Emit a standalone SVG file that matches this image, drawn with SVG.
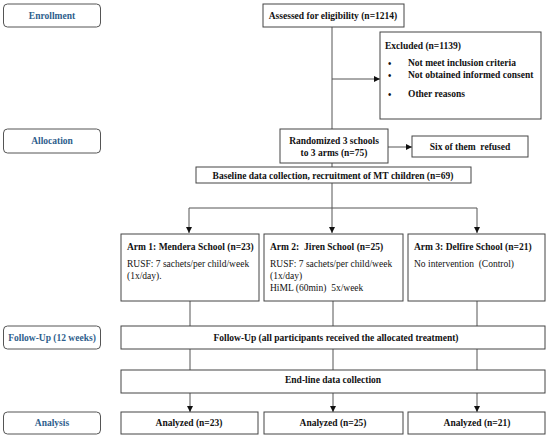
<svg xmlns="http://www.w3.org/2000/svg" width="550" height="439" viewBox="0 0 550 439" xml:space="preserve">
<style>
.lbl{fill:#fff;stroke:#555;stroke-width:1}
.box{fill:#fff;stroke:#444;stroke-width:1}
.lt{font-family:"Liberation Serif",serif;font-weight:bold;font-size:9.5px;fill:#2e5e8c;text-anchor:middle}
.b{font-family:"Liberation Serif",serif;font-weight:bold;font-size:9.5px;fill:#111;white-space:pre}
.n{font-family:"Liberation Serif",serif;font-size:9.5px;fill:#111;white-space:pre}
.c{text-anchor:middle}
.ln{stroke:#555;stroke-width:1;fill:none}
</style>
<defs>
<marker id="ah" viewBox="0 0 6 6" refX="6" refY="3" markerWidth="6" markerHeight="6" orient="auto" markerUnits="userSpaceOnUse">
<path d="M0,0 L6,3 L0,6 z" fill="#111"/>
</marker>
</defs>
<rect width="550" height="439" fill="#fff"/>
<g id="stage-labels">
<g id="lbl-enrollment"><rect class="lbl" x="3.5" y="4" width="97" height="23" rx="4"/><text class="lt" x="52" y="19">Enrollment</text></g>
<g id="lbl-allocation"><rect class="lbl" x="3.5" y="129" width="97" height="24" rx="4"/><text class="lt" x="52" y="144">Allocation</text></g>
<g id="lbl-followup"><rect class="lbl" x="3.5" y="326" width="97" height="23" rx="4"/><text class="lt" x="52" y="341">Follow-Up (12 weeks)</text></g>
<g id="lbl-analysis"><rect class="lbl" x="3.5" y="412" width="97" height="22" rx="4"/><text class="lt" x="52" y="426">Analysis</text></g>
</g>
<g id="connectors">
<line class="ln" x1="332" y1="27" x2="332" y2="129"/>
<line class="ln" x1="332" y1="79" x2="380" y2="79" marker-end="url(#ah)"/>
<line class="ln" x1="388" y1="147" x2="412" y2="147" marker-end="url(#ah)"/>
<line class="ln" x1="332" y1="163" x2="332" y2="167"/>
<line class="ln" x1="332" y1="183" x2="332" y2="233" marker-end="url(#ah)"/>
<polyline class="ln" points="189,208 477,208 477,233" marker-end="url(#ah)"/>
<line class="ln" x1="189" y1="208" x2="189" y2="233" marker-end="url(#ah)"/>
<line class="ln" x1="190" y1="301" x2="190" y2="326"/>
<line class="ln" x1="333" y1="301" x2="333" y2="326"/>
<line class="ln" x1="477" y1="301" x2="477" y2="326"/>
<line class="ln" x1="190" y1="349" x2="190" y2="370"/>
<line class="ln" x1="333" y1="349" x2="333" y2="370"/>
<line class="ln" x1="477" y1="349" x2="477" y2="370"/>
<line class="ln" x1="190" y1="393" x2="190" y2="412" marker-end="url(#ah)"/>
<line class="ln" x1="333" y1="393" x2="333" y2="412" marker-end="url(#ah)"/>
<line class="ln" x1="477" y1="393" x2="477" y2="412" marker-end="url(#ah)"/>
</g>
<g id="assessed"><rect class="box" x="263" y="4" width="141" height="23"/><text class="b c" x="333" y="19">Assessed for eligibility (n=1214)</text></g>
<g id="excluded"><rect class="box" x="380" y="32" width="161" height="87"/>
<text class="b" x="385" y="49">Excluded (n=1139)</text>
<text class="b" x="388" y="67">•</text><text class="b" x="408" y="66">Not meet inclusion criteria</text>
<text class="b" x="388" y="79">•</text><text class="b" x="408" y="78">Not obtained informed consent</text>
<text class="b" x="388" y="98">•</text><text class="b" x="408" y="97">Other reasons</text>
</g>
<g id="randomized"><rect class="box" x="280" y="129" width="108" height="34"/><text class="b c" x="334" y="144">Randomized 3 schools</text><text class="b c" x="334" y="156">to 3 arms (n=75)</text></g>
<g id="refused"><rect class="box" x="412" y="136" width="116" height="21"/><text class="b c" x="470" y="150">Six of them  refused</text></g>
<g id="baseline"><rect class="box" x="196" y="167" width="275" height="16"/><text class="b c" x="333" y="179">Baseline data collection, recruitment of MT children (n=69)</text></g>
<g id="arm1"><rect class="box" x="121" y="234" width="138" height="67"/>
<text class="b" x="127" y="250">Arm 1: Mendera School (n=23)</text>
<text class="n" x="127" y="267">RUSF: 7 sachets/per child/week</text>
<text class="n" x="127" y="279">(1x/day).</text></g>
<g id="arm2"><rect class="box" x="264" y="234" width="139" height="67"/>
<text class="b" x="270" y="250">Arm 2:  Jiren School (n=25)</text>
<text class="n" x="270" y="267">RUSF: 7 sachets/per child/week</text>
<text class="n" x="270" y="279">(1x/day)</text>
<text class="n" x="270" y="291">HiML (60min)  5x/week</text></g>
<g id="arm3"><rect class="box" x="408" y="234" width="137" height="67"/>
<text class="b" x="414" y="250">Arm 3: Delfire School (n=21)</text>
<text class="n" x="414" y="267">No intervention  (Control)</text></g>
<g id="followup"><rect class="box" x="121" y="326" width="424" height="23"/><text class="b c" x="336" y="341">Follow-Up (all participants received the allocated treatment)</text></g>
<g id="endline"><rect class="box" x="121" y="370" width="424" height="23"/><text class="b" x="285" y="383">End-line data collection</text></g>
<g id="an1"><rect class="box" x="121" y="412" width="137" height="22"/><text class="b c" x="189" y="426">Analyzed (n=23)</text></g>
<g id="an2"><rect class="box" x="264" y="412" width="139" height="22"/><text class="b c" x="333" y="426">Analyzed (n=25)</text></g>
<g id="an3"><rect class="box" x="408" y="412" width="137" height="22"/><text class="b c" x="477" y="426">Analyzed (n=21)</text></g>
</svg>
